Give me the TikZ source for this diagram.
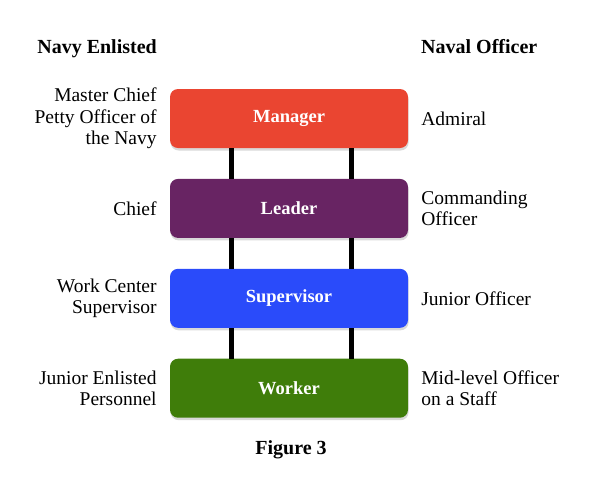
\documentclass[tikz,border=0pt]{standalone}
\usepackage{fontspec}
\setmainfont{Liberation Serif}
\usetikzlibrary{positioning,shadows}

\definecolor{mgrred}{HTML}{EA4531}
\definecolor{ldrpurple}{HTML}{682463}
\definecolor{supblue}{HTML}{2A4BFA}
\definecolor{wkrgreen}{HTML}{3F7D0A}

\begin{document}
\begin{tikzpicture}[x=1pt, y=-1pt,
    every node/.style={font=\fontsize{19.5}{21.5}\selectfont, inner sep=0pt},
    level/.style={rectangle, rounded corners=8pt, minimum width=238pt, minimum height=59pt,
                  text=white, font=\fontsize{18.5}{21.5}\selectfont\bfseries,
                  drop shadow={shadow xshift=0.6pt, shadow yshift=-2.5pt, opacity=0.3}},
    rank/.style={align=right},
    heading/.style={font=\fontsize{20}{24}\selectfont\bfseries},
    bar/.style={line width=4.6pt, black}
]
\useasboundingbox (0,0) rectangle (612,491);

\node[level, fill=mgrred] (mgr) at (289,118.5) {Manager};
\node[level, fill=ldrpurple, below=30.5pt of mgr] (ldr) {Leader};
\node[level, fill=supblue, below=30.5pt of ldr] (sup) {Supervisor};
\node[level, fill=wkrgreen, below=30.5pt of sup] (wkr) {Worker};

\node[heading, anchor=base east] (enl) at (157,53) {Navy Enlisted};
\node[heading, anchor=base west] (off) at (421,53) {Naval Officer};

\node[rank, left=13pt of mgr] (mcpon) {Master Chief\\Petty Officer of\\the Navy};
\node[rank, left=13pt of ldr] (chief) {Chief};
\node[rank, left=13pt of sup] (wcs) {Work Center\\Supervisor};
\node[rank, left=13pt of wkr] (jrenl) {Junior Enlisted\\Personnel};

\node[align=left, right=13pt of mgr] (adm) {Admiral};
\node[align=left, right=13pt of ldr] (co) {Commanding\\Officer};
\node[align=left, right=13pt of sup] (jro) {Junior Officer};
\node[align=left, right=13pt of wkr] (mlo) {Mid-level Officer\\on a Staff};

\node[heading, anchor=base] (fig) at ([xshift=2pt, yshift=-37pt]wkr.south) {Figure 3};

\foreach \a/\b in {mgr/ldr, ldr/sup, sup/wkr} {
    \draw[bar] ([xshift=-57.5pt]\a.south) -- ([xshift=-57.5pt]\b.north);
    \draw[bar] ([xshift=62.3pt]\a.south) -- ([xshift=62.3pt]\b.north);
}
\end{tikzpicture}
\end{document}
